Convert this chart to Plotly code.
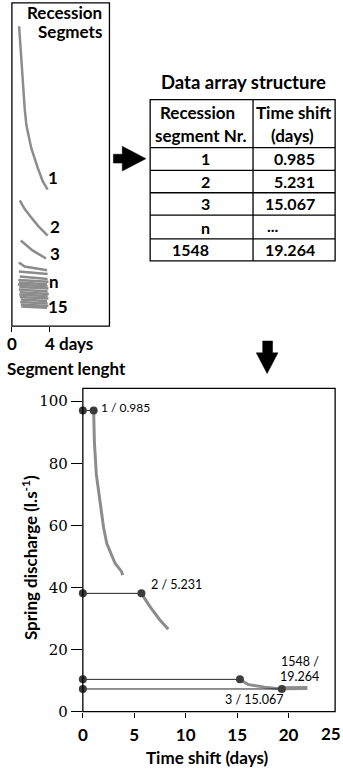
import plotly.graph_objects as go

W, H = 343, 776

# ---------------- data ----------------
# main plot: recession segments placed at their time shift (days) / discharge (l/s)
seg1_x = [1.05, 1.12, 1.31, 1.44, 1.70, 2.01, 2.33, 3.13, 3.77, 3.86]
seg1_y = [97.1, 87.0, 76.4, 73.2, 65.8, 59.4, 54.1, 47.8, 45.1, 44.0]
seg2_x = [5.69, 6.49, 7.45, 8.31]
seg2_y = [38.1, 34.0, 29.7, 26.5]
seg3_x = [15.27, 16.1, 17.67, 19.27]
seg3_y = [10.3, 8.7, 7.9, 7.3]
seg1548_x = [19.34, 21.83]
seg1548_y = [7.5, 7.6]

# connectors: start discharge and drawn time-shift position
conn_q = [97.0, 38.1, 10.4, 7.3]
conn_shift = [1.05, 5.69, 15.27, 19.34]

# left panel: segments vs. segment length (days)
L1_x = [0.77, 1.02, 1.19, 1.37, 1.55, 2.07, 2.77, 3.29, 3.82]
L1_y = [96.6, 85.0, 76.4, 70.0, 64.7, 57.3, 50.9, 46.7, 44.0]
L2_x = [0.84, 1.37, 2.07, 2.77, 3.82]
L2_y = [40.5, 37.7, 35.0, 32.4, 29.2]
L3_x = [0.95, 1.37, 2.2, 3.65]
L3_y = [27.6, 26.5, 24.4, 21.8]
La_x = [0.74, 1.37, 3.76]
La_y = [20.5, 19.2, 18.0]
Lb_x = [0.74, 3.82]
Lb_y = [17.6, 16.8]
Lc_x = [0.84, 3.82]
Lc_y = [16.0, 15.2]
block_x0 = [0.68, 0.74, 0.63, 0.79, 0.74, 0.84, 0.79, 0.84, 0.95, 0.89, 0.95, 1.0]
block_x1 = [3.9, 3.76, 3.82, 3.9, 3.82, 3.95, 3.82, 3.9, 3.76, 3.82, 3.9, 3.76]
block_y0 = [14.9, 14.1, 13.4, 12.6, 11.8, 10.9, 10.2, 9.4, 8.6, 7.8, 7.0, 6.3]
block_y1 = [14.3, 13.5, 12.8, 12.1, 11.2, 10.4, 9.6, 8.9, 8.1, 7.3, 6.5, 5.9]

# table
tbl_seg = ["1", "2", "3", "n", "1548"]
tbl_shift = ["0.985", "5.231", "15.067", "...", "19.264"]

x_ticks = [0, 5, 10, 15, 20]
y_ticks = [0, 20, 40, 60, 80, 100]

# ---------------- helpers ----------------
def px(x):
    return x / W

def py(y):
    return 1 - y / H

SANS = "Lato"
GRAY = "#8c8c8c"
DARK = "#3c3c3c"

fig = go.Figure()

# main plot segments
for xs, ys, w in [(seg1_x, seg1_y, 3), (seg2_x, seg2_y, 3), (seg3_x, seg3_y, 3), (seg1548_x, seg1548_y, 4)]:
    fig.add_trace(go.Scatter(x=xs, y=ys, mode="lines", line=dict(color=GRAY, width=w),
                             xaxis="x", yaxis="y", showlegend=False, hoverinfo="skip"))
# connectors
for q, s in zip(conn_q, conn_shift):
    fig.add_trace(go.Scatter(x=[0, s], y=[q, q], mode="lines+markers",
                             line=dict(color="#222222", width=1),
                             marker=dict(color=DARK, size=8),
                             xaxis="x", yaxis="y", showlegend=False, hoverinfo="skip", cliponaxis=False))

# left panel segments
left = [(L1_x, L1_y), (L2_x, L2_y), (L3_x, L3_y), (La_x, La_y), (Lb_x, Lb_y), (Lc_x, Lc_y)]
for a, b, c, d in zip(block_x0, block_x1, block_y0, block_y1):
    left.append(([a, b], [c, d]))
for xs, ys in left:
    fig.add_trace(go.Scatter(x=xs, y=ys, mode="lines", line=dict(color=GRAY, width=2.5),
                             xaxis="x2", yaxis="y2", showlegend=False, hoverinfo="skip"))

shapes = []
def rect(x0, y0, x1, y1, w=1.3):
    shapes.append(dict(type="rect", xref="paper", yref="paper", x0=px(x0), x1=px(x1),
                       y0=py(y1), y1=py(y0), line=dict(color="black", width=w)))

def hline(x0, x1, y, w=1.3):
    shapes.append(dict(type="line", xref="paper", yref="paper", x0=px(x0), x1=px(x1),
                       y0=py(y), y1=py(y), line=dict(color="black", width=w)))

def vline(x, y0, y1, w=1.3):
    shapes.append(dict(type="line", xref="paper", yref="paper", x0=px(x), x1=px(x),
                       y0=py(y0), y1=py(y1), line=dict(color="black", width=w)))

def poly(pts):
    path = "M " + " L ".join(f"{px(x):.5f},{py(y):.5f}" for x, y in pts) + " Z"
    shapes.append(dict(type="path", xref="paper", yref="paper", path=path,
                       fillcolor="black", line=dict(color="black", width=0.5)))

# frames
rect(79, 393, 335, 720)
rect(7, 3, 106, 330)
# table
tbl_rows = [149.3, 172.3, 195, 217.7, 241.7]
rect(147.3, 100.7, 335, 264)
vline(251.7, 100.7, 264)
for r in tbl_rows:
    hline(147.3, 335, r)
# arrows
poly([(110, 156), (119, 156), (119, 148), (143, 160.5), (119, 173), (119, 165), (110, 165)])
poly([(261.5, 345), (271.5, 345), (271.5, 357), (277, 357), (266, 378), (255, 357), (261.5, 357)])

ann = []
def txt(t, x, y, size=16, anchor="center", bold=True, family=SANS, angle=0):
    ann.append(dict(text=t, x=px(x), y=py(y), xref="paper", yref="paper", showarrow=False,
                    xanchor=anchor, yanchor="middle", textangle=angle,
                    font=dict(family=family, size=size, color="black",
                              weight="bold" if bold else "normal")))

# left panel text
txt("Recession", 100, 12.7, 17, "right")
txt("Segmets", 100, 31.7, 17, "right")
for t, x, y in [("1", 49, 180), ("2", 50.5, 229), ("3", 50.3, 256.7), ("n", 50, 284.5), ("15", 54, 310)]:
    txt(t, x, y, 17)
txt("0", 7.5, 348, 17)
txt("4 days", 39, 348, 17, "left")
txt("Segment lenght", 0, 373, 17, "left")

# table text
txt("Data array structure", 241.7, 83.3, 18.5)
txt("Recession", 195, 114, 17)
txt("segment Nr.", 198, 137, 17)
txt("Time shift", 293, 114, 17)
txt("(days)", 291.7, 137, 17)
mids = [160.8, 183.7, 206.3, 229.7, 252.8]
for s, v, m in zip(tbl_seg, tbl_shift, mids):
    txt(s, 188.3 if s == "1548" else 203.3, m, 16)
    if v == "...":
        txt(v, 272, m - 2, 16)
    else:
        txt(v, 317, m, 16, "right")

# main plot labels
txt("1 / 0.985", 95, 412, 12, "left", bold=False)
txt("2 / 5.231", 145.7, 591.7, 12.5, "left", bold=False)
txt("1548 /", 299, 669, 12.5, bold=False)
txt("19.264", 299, 684, 12.5, bold=False)
txt("3 / 15.067", 252.7, 707.7, 12.5, bold=False)
txt("25", 343, 742, 17, "right")
txt("Time shift (days)", 205.7, 766, 17)
txt("Spring discharge (l.s<sup>-1</sup>)", 25, 564, 17, angle=-90)

fig.update_layout(
    width=W, height=H, margin=dict(l=0, r=0, t=0, b=0),
    paper_bgcolor="white", plot_bgcolor="white",
    shapes=shapes, annotations=ann,
    xaxis=dict(domain=[px(79), px(340)], range=[0, 25], tickvals=x_ticks,
               showgrid=False, zeroline=False, showline=False,
               ticks="outside", ticklen=5, tickcolor="black", ticklabelstandoff=3,
               tickfont=dict(family=SANS, size=17, color="black", weight="bold"),
               anchor="y", fixedrange=True),
    yaxis=dict(domain=[py(720), py(393)], range=[0, 104.1], tickvals=y_ticks,
               showgrid=False, zeroline=False, showline=False,
               ticks="outside", ticklen=11, tickcolor="black",
               tickfont=dict(family="DejaVu Serif", size=15, color="black"),
               anchor="x", fixedrange=True),
    xaxis2=dict(domain=[px(7), px(106)], range=[0, 10.42], tickvals=[0, 4],
                showticklabels=False, showgrid=False, zeroline=False, showline=False,
                ticks="outside", ticklen=5, tickcolor="black", anchor="y2", fixedrange=True),
    yaxis2=dict(domain=[py(330), py(3)], range=[0, 104.1], visible=False,
                showgrid=False, zeroline=False, anchor="x2", fixedrange=True),
)

fig.write_html("out.html")
